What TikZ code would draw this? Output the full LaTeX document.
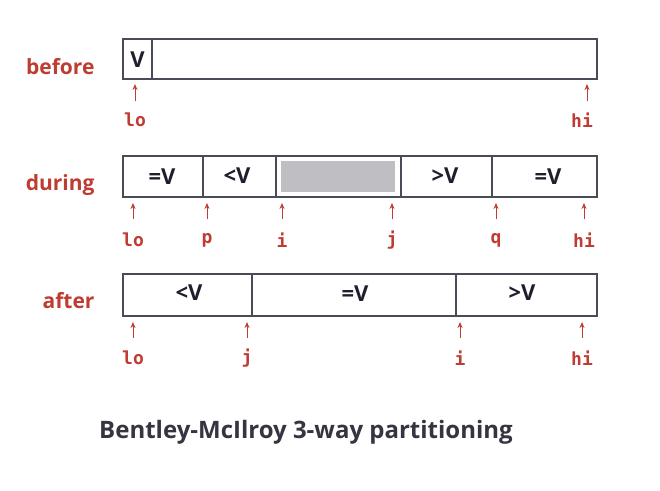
\documentclass[tikz,border=0pt]{standalone}
\usepackage{fontspec}
\setmainfont{Open Sans}
\newfontfamily\monofont{DejaVu Sans Mono}
\usetikzlibrary{arrows.meta}
\definecolor{labred}{RGB}{190,60,50}
\definecolor{ink}{RGB}{30,30,45}
\definecolor{greycell}{RGB}{190,190,195}
\tikzset{
  cell/.style={draw=ink!80, line width=1.3pt, fill=white},
  celltxt/.style={font=\fontsize{22}{22}\selectfont\bfseries, text=ink},
  rowlab/.style={font=\fontsize{21}{21}\selectfont\bfseries, text=labred, anchor=east},
  ptr/.style={draw=labred, line width=1pt, -{Stealth[length=6pt,width=5pt]}},
  ptrlab/.style={font=\monofont\fontsize{18}{18}\selectfont\bfseries, text=labred},
}
\begin{document}
\begin{tikzpicture}[x=1pt,y=-1pt]
\useasboundingbox (0,0) rectangle (660,490);
% ---------- before ----------
\node[rowlab] (lbefore) at (98,67) {before};
\draw[cell] (123,39) rectangle (597,79);
\draw[ink!80, line width=1.3pt] (152,39) -- (152,79);
\node[celltxt] (bv) at (137.5,60) {V};
\node[ptrlab] (blo) at (135,120) {lo};
\node[ptrlab] (bhi) at (582,120) {hi};
\coordinate (blot) at (135,84);
\coordinate (bhit) at (587,84);
\draw[ptr] (135,101) -- (blot);
\draw[ptr] (587,101) -- (bhit);
% ---------- during ----------
\node[rowlab] (lduring) at (98,185) {during};
\draw[cell] (123,156) rectangle (597,197);
\foreach \x in {203,276,401,492} \draw[ink!80, line width=1.3pt] (\x,156) -- (\x,197);
\fill[greycell] (281,161) rectangle (395,192);
\node[celltxt] (d1) at (162,177) {=V};
\node[celltxt] (d2) at (237,176) {<V};
\node[celltxt] (d4) at (445,176) {>V};
\node[celltxt] (d5) at (548,177) {=V};
\foreach \x/\t/\n in {133/lo/dlo,207/p/dp,282/i/di,392/j/dj,496/q/dq,584/hi/dhi}{
  \node[ptrlab] (\n) at (\x,240) {\t};
  \coordinate (\n t) at (\x,203);
  \draw[ptr] (\x,219) -- (\n t);
}
% ---------- after ----------
\node[rowlab] (lafter) at (98,301) {after};
\draw[cell] (123,274) rectangle (597,316);
\foreach \x in {252,456} \draw[ink!80, line width=1.3pt] (\x,274) -- (\x,316);
\node[celltxt] (a1) at (189,293) {<V};
\node[celltxt] (a2) at (355,294) {=V};
\node[celltxt] (a3) at (522,293) {>V};
\foreach \x/\t/\n in {133/lo/alo,247/j/aj,460/i/ai,582/hi/ahi}{
  \node[ptrlab] (\n) at (\x,358) {\t};
  \coordinate (\n t) at (\x,322);
  \draw[ptr] (\x,338) -- (\n t);
}
% ---------- title ----------
\node[font=\fontsize{24}{24}\selectfont\bfseries, text=ink!90] (title) at (306,432) {Bentley-McIlroy 3-way partitioning};
\end{tikzpicture}
\end{document}
